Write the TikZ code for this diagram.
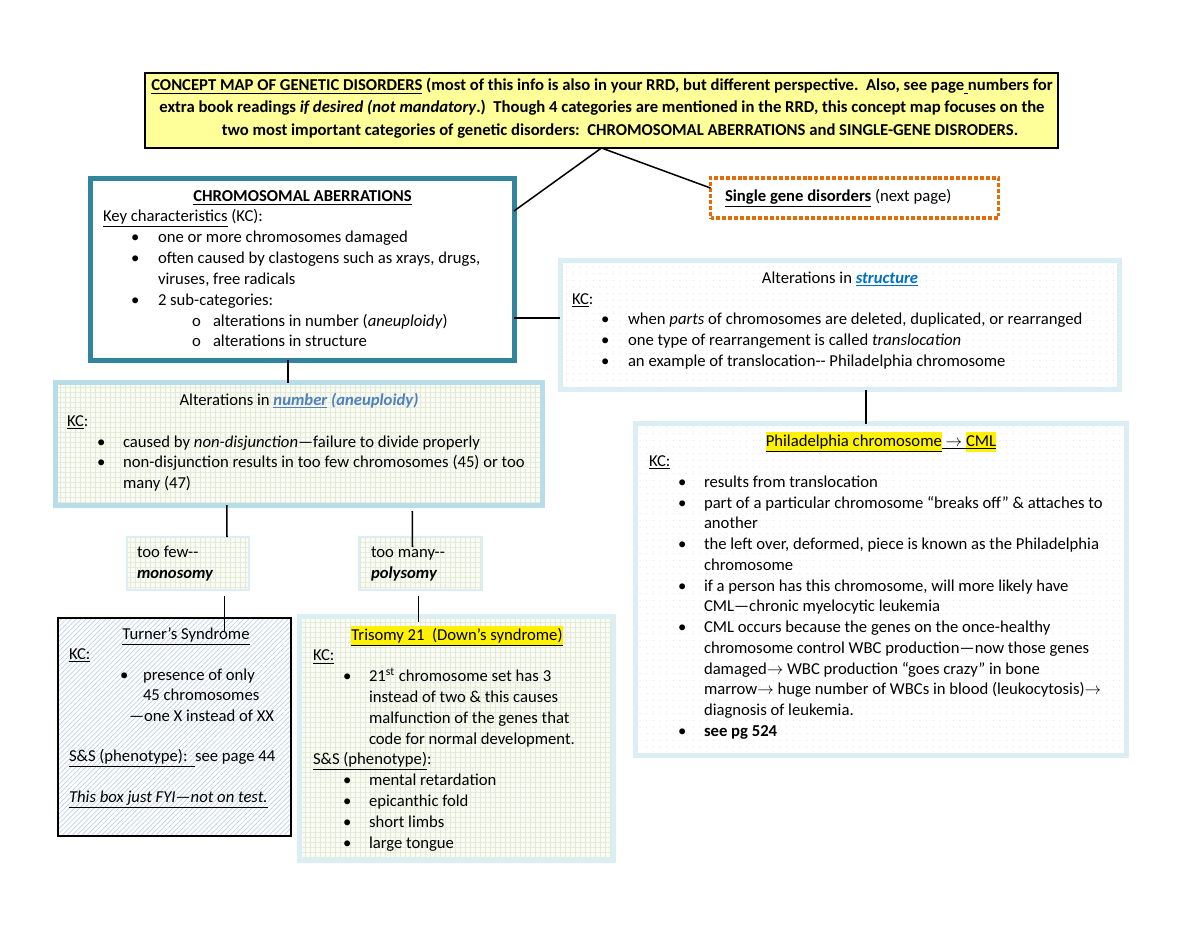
\documentclass[tikz,border=0pt]{standalone}
\usepackage{fontspec}
\setmainfont{Carlito}
\usetikzlibrary{calc,patterns.meta}

\definecolor{tealc}{HTML}{31849B}
\definecolor{paleblue}{HTML}{DAEEF3}
\definecolor{midblue}{HTML}{B7DDE8}
\definecolor{hdryellow}{HTML}{FFFF99}
\definecolor{orangec}{HTML}{E36C09}
\definecolor{numblue}{HTML}{4F81BD}
\definecolor{strblue}{HTML}{0070C0}
\definecolor{gridbg}{HTML}{FAFBF5}
\definecolor{gridln}{HTML}{E3EAD5}
\definecolor{dotc}{HTML}{CCDAE4}
\definecolor{hatchc}{HTML}{BDD0E8}

\newcommand{\hilite}[1]{{\setlength{\fboxsep}{0pt}\colorbox{yellow}{\strut #1}}}

\tikzset{
  every node/.style={inner sep=0pt, outer sep=0pt},
  sz/.style 2 args={minimum width=#1*0.66pt, minimum height=#2*0.66pt},
  lbl/.style={anchor=base west},
  ttl/.style={anchor=base},
  link/.style={line width=1pt},
  hdrbox/.style={draw=black, line width=1.3pt, fill=hdryellow},
  chrombox/.style={draw=tealc, line width=3.3pt, fill=white},
  dotbox/.style={draw=paleblue, line width=3.3pt, preaction={fill=white},
    pattern={Dots[distance=4.4pt, radius=0.33pt]}, pattern color=dotc},
  gridbox/.style={draw=paleblue, line width=3.3pt, preaction={fill=gridbg},
    pattern={Hatch[angle=0, distance=3.3pt, line width=0.5pt]}, pattern color=gridln},
  hatchbox/.style={draw=black, line width=1.3pt, preaction={fill=white},
    pattern={Lines[angle=45, distance=2.3pt, line width=0.45pt]}, pattern color=hatchc},
  singlebox/.style={draw=orangec, line width=2pt, dash pattern=on 2.6pt off 1.3pt}
}

\begin{document}
\begin{tikzpicture}[x=0.66pt, y=-0.66pt, font=\fontsize{11pt}{13pt}\selectfont]
\useasboundingbox (0,0) rectangle (1200,927);

% boxes
\node[hdrbox, sz={913}{75}] (top) at (601.5,110.5) {};
\node[chrombox, sz={424}{182}] (chrom) at (302,269) {};
\node[singlebox, sz={288}{40}] (single) at (854.5,198) {};
\node[dotbox, sz={559}{129.5}] (struct) at (839.5,324.75) {};
\node[dotbox, sz={491.5}{331.5}] (phila) at (880.75,589.25) {};
\node[gridbox, draw=midblue, sz={486.5}{122.5}] (number) at (298.75,443.75) {};
\node[gridbox, line width=1.3pt, sz={122}{53}] (few) at (188,563.5) {};
\node[gridbox, line width=1.3pt, sz={123}{53}] (many) at (420.5,563.5) {};
\node[hatchbox, sz={233}{218}] (turner) at (174.5,727) {};
\node[gridbox, sz={314}{244}] (trisomy) at (456,738) {};

% connectors
\draw[link] (top.south) -- ($(chrom.north east)+(0,33)$);
\draw[link] (top.south) -- ($(single.north west)+(0,10)$);
\draw[link] ($(chrom.east)+(0,49)$) -- ($(struct.west)+(0,-6.75)$);
\draw[link] ($(struct.south)+(26.5,0)$) -- ($(phila.north)+(-14.75,0)$);
\draw[link] ($(chrom.south)+(-14,0)$) -- ($(number.north)+(-10.75,0)$);
\draw[link] ($(number.south)+(-72,0)$) -- ($(few.north)+(39,0)$);
\draw[link] ($(number.south)+(113.5,6)$) -- ($(many.north)+(-8,10)$);
\draw[link] ($(few.south)+(36.5,6)$) -- ($(turner.north)+(50,13)$);
\draw[link] ($(many.south)+(-2,6)$) -- ($(trisomy.north)+(-37.5,6)$);

% header
\begin{scope}[font=\fontsize{11pt}{13pt}\selectfont\bfseries]
\node[ttl] (hdr1) at (602,90.7) {\underline{CONCEPT MAP OF GENETIC DISORDERS} (most of this info is also in your RRD, but different perspective.\ \ Also, see page\underline{\ }numbers for};
\node[ttl] (hdr2) at (602,112.7) {extra book readings \textit{if desired (not mandatory}.)\ \ Though 4 categories are mentioned in the RRD, this concept map focuses on the};
\node[ttl] (hdr3) at (620,135) {two most important categories of genetic disorders:\ \ CHROMOSOMAL ABERRATIONS and SINGLE-GENE DISRODERS.};
\end{scope}

% chromosomal aberrations
\node[ttl] (chromttl) at (302.5,201.7) {\textbf{\underline{CHROMOSOMAL ABERRATIONS}}};
\node[lbl] (chromkc) at (103,221.5) {\underline{Key characteristics} (KC):};
\foreach \t [count=\i] in {one or more chromosomes damaged, {often caused by clastogens such as xrays, drugs,}, {viruses, free radicals}, 2 sub-categories:}
  \node[lbl] (chromln\i) at (158,221.5+20.9*\i) {\t};
\foreach \i in {1,2,4}
  \node[lbl] (chrombul\i) at (131,221.5+20.9*\i) {\textbullet};
\foreach \t [count=\i from 5] in {alterations in number (\textit{aneuploidy}), alterations in structure} {
  \node[lbl] (chromsub\i) at (192,221.5+20.9*\i) {o};
  \node[lbl] (chromln\i) at (213,221.5+20.9*\i) {\t};
}

% single gene
\node[lbl] (singletxt) at (725,201.7) {\textbf{\underline{Single gene disorders}} (next page)};

% alterations in structure
\node[ttl] (structttl) at (840,283.5) {Alterations in \textcolor{strblue}{\textbf{\textit{\underline{structure}}}}};
\node[lbl] (structkc) at (572,304.5) {\underline{KC}:};
\foreach \t [count=\i from 0] in {{when \textit{parts} of chromosomes are deleted, duplicated, or rearranged}, one type of rearrangement is called \textit{translocation}, an example of translocation-{}- Philadelphia chromosome} {
  \node[lbl] (structbul\i) at (601,324.5+20.8*\i) {\textbullet};
  \node[lbl] (structln\i) at (628,324.5+20.8*\i) {\t};
}

% philadelphia chromosome
\node[ttl] (philattl) at (881,446) {\hilite{\underline{Philadelphia chromosome}}\underline{\ $\rightarrow$\ }\hilite{\underline{CML}}};
\node[lbl] (philakc) at (649,466.5) {\underline{KC:}};
\foreach \t [count=\i from 0] in {results from translocation,
    part of a particular chromosome “breaks off” \& attaches to, another,
    {the left over, deformed, piece is known as the Philadelphia}, chromosome,
    {if a person has this chromosome, will more likely have}, CML—chronic myelocytic leukemia,
    CML occurs because the genes on the once-healthy, chromosome control WBC production—now those genes,
    damaged$\rightarrow$ WBC production “goes crazy” in bone, marrow$\rightarrow$ huge number of WBCs in blood (leukocytosis)$\rightarrow$,
    diagnosis of leukemia., \textbf{see pg 524}}
  \node[lbl] (philaln\i) at (704,487.3+20.75*\i) {\t};
\foreach \i in {0,1,3,5,7,12}
  \node[lbl] (philabul\i) at (678,487.3+20.75*\i) {\textbullet};

% alterations in number
\node[ttl] (numttl) at (299,405) {Alterations in \textcolor{numblue}{\textbf{\textit{\underline{number} (aneuploidy)}}}};
\node[lbl] (numkc) at (67,426) {\underline{KC}:};
\foreach \t [count=\i from 0] in {caused by \textit{non-disjunction}—failure to divide properly, non-disjunction results in too few chromosomes (45) or too, many (47)}
  \node[lbl] (numln\i) at (123,447.3+20.5*\i) {\t};
\foreach \i in {0,1}
  \node[lbl] (numbul\i) at (97,447.3+20.5*\i) {\textbullet};

% too few / too many
\node[lbl] (fewln1) at (137,557.7) {too few-{}-};
\node[lbl] (fewln2) at (137,578.3) {\textbf{\textit{monosomy}}};
\node[lbl] (manyln1) at (371,557.7) {too many-{}-};
\node[lbl] (manyln2) at (371,578.3) {\textbf{\textit{polysomy}}};

% turner
\node[ttl] (turnttl) at (186,639) {\underline{Turner’s Syndrome}};
\node[lbl] (turnkc) at (69,659.5) {\underline{KC:}};
\node[lbl] (turnbul) at (120,680.5) {\textbullet};
\node[lbl] (turnln1) at (143,680.5) {presence of only};
\node[lbl] (turnln2) at (143,700.8) {45 chromosomes};
\node[lbl] (turnln3) at (129,721) {—one X instead of XX};
\node[lbl] (turnss) at (69,761.5) {\underline{S\&S (phenotype):\ \ }see page 44};
\node[lbl] (turnfyi) at (69,802.5) {\textit{\underline{This box just FYI—not on test.}}};

% trisomy 21
\node[ttl] (trittl) at (457,640) {\hilite{\underline{Trisomy 21\ \ (Down’s syndrome)}}};
\node[lbl] (trikc) at (313,660.8) {\underline{KC:}};
\foreach \t [count=\i from 0] in {21\textsuperscript{st} chromosome set has 3, instead of two \& this causes, malfunction of the genes that, code for normal development.}
  \node[lbl] (triln\i) at (369,681.6+20.8*\i) {\t};
\node[lbl] (triss) at (313,764.8) {\underline{S\&S (phenotype)}:};
\foreach \t [count=\i from 5] in {mental retardation, epicanthic fold, short limbs, large tongue}
  \node[lbl] (triln\i) at (369,681.6+20.8*\i) {\t};
\foreach \i in {0,5,6,7,8}
  \node[lbl] (tribul\i) at (343,681.6+20.8*\i) {\textbullet};

\end{tikzpicture}
\end{document}
